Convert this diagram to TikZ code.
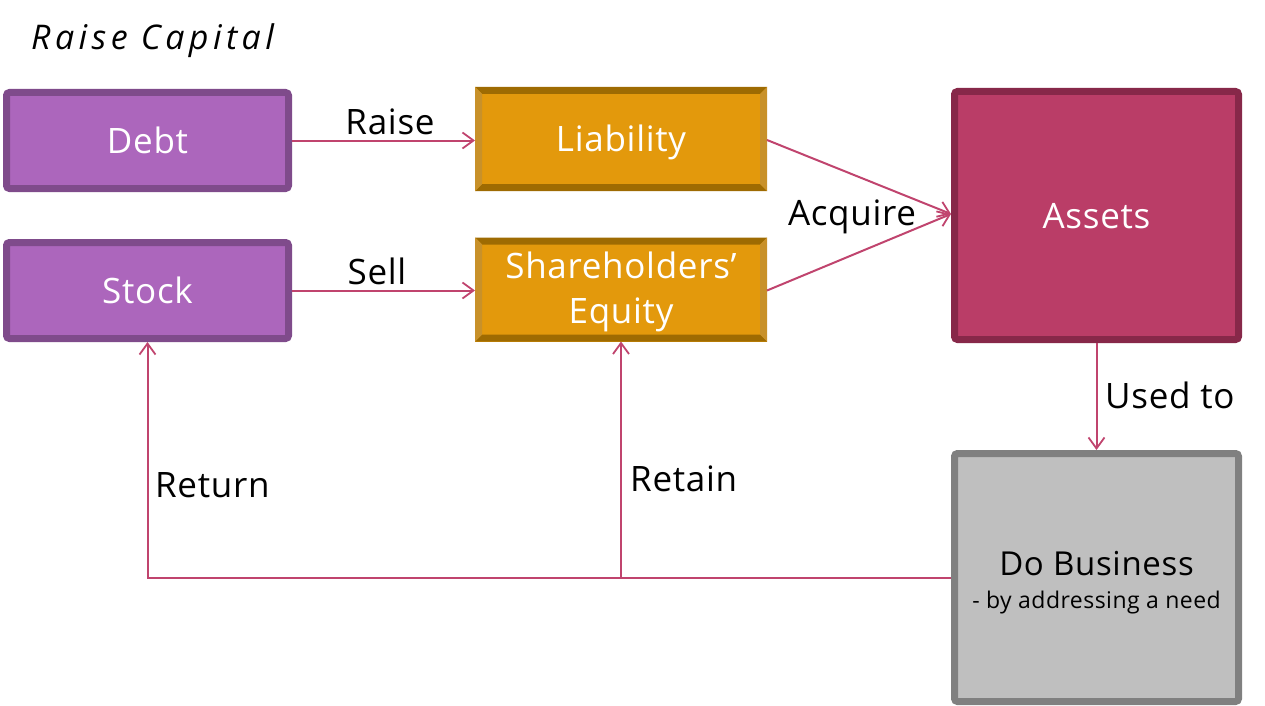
\documentclass[tikz,border=0pt]{standalone}
\usepackage{fontspec}
\setmainfont[LetterSpace=2]{Open Sans}
\newfontfamily\titlefont[LetterSpace=13]{Open Sans}
\usetikzlibrary{arrows.meta,calc}
\definecolor{purfill}{HTML}{AC66BC}
\definecolor{purline}{HTML}{7F4B8B}
\definecolor{orfill}{HTML}{E3990C}
\definecolor{ordark}{HTML}{9E6B02}
\definecolor{orlight}{HTML}{C8912A}
\definecolor{asfill}{HTML}{BA3D67}
\definecolor{asline}{HTML}{872849}
\definecolor{grfill}{HTML}{BFBFBF}
\definecolor{grline}{HTML}{808080}
\definecolor{arr}{HTML}{C0446E}
\tikzset{
  big/.style={font=\fontsize{35}{40}\selectfont},
  whitebox/.style={big,text=white,align=center,inner sep=0pt,text height=25pt,text depth=0pt},
  purbox/.style={whitebox,draw=purline,fill=purfill,line width=7pt,rounded corners=3pt,minimum width=282pt,minimum height=96pt},
  orbox/.style={whitebox,fill=orfill,minimum width=292pt,minimum height=104pt,outer sep=0pt},
  bigbox/.style={whitebox,line width=7pt,rounded corners=3pt,minimum width=284pt,minimum height=248pt},
  conn/.style={draw=arr,line width=2pt,-{Straight Barb[length=11pt,width=16pt,line width=1.8pt]}},
  lbl/.style={big,inner sep=0pt,text=black,anchor=base},
  wlbl/.style={big,inner sep=0pt,text=white,anchor=base}
}
\newcommand{\bevelbox}[1]{%
  \fill[ordark] (#1.north west) -- (#1.north east) -- ($(#1.north east)+(-7,7)$) -- ($(#1.north west)+(7,7)$) -- cycle;
  \fill[ordark] (#1.south west) -- (#1.south east) -- ($(#1.south east)+(-7,-7)$) -- ($(#1.south west)+(7,-7)$) -- cycle;
  \fill[orlight] (#1.north west) -- ($(#1.north west)+(7,7)$) -- ($(#1.south west)+(7,-7)$) -- (#1.south west) -- cycle;
  \fill[orlight] (#1.north east) -- ($(#1.north east)+(-7,7)$) -- ($(#1.south east)+(-7,-7)$) -- (#1.south east) -- cycle;
}
\begin{document}
\begin{tikzpicture}[x=1pt,y=-1pt]
\useasboundingbox (0,0) rectangle (1265,706);
\node[font=\fontsize{34}{40}\selectfont\titlefont\itshape,anchor=base west,inner sep=0pt] (title) at (31,50) {Raise Capital};
\node[purbox] (debt) at (147.5,140.5) {Debt};
\node[purbox] (stock) at (147.5,290.5) {Stock};
\node[orbox] (liab) at (621,139) {};
\node[orbox] (eq) at (621,289.5) {};
\bevelbox{liab}
\bevelbox{eq}
\node[whitebox] (liabt) at (liab) {Liability};
\node[wlbl] (eqt1) at (621,278) {Shareholders’};
\node[wlbl] (eqt2) at (621,323) {Equity};
\node[bigbox,draw=asline,fill=asfill] (assets) at (1096.5,215.5) {Assets};
\node[bigbox,draw=grline,fill=grfill,text=black] (biz) at (1096.5,577.5) {};
\node[lbl,font=\fontsize{33}{40}\selectfont] (bizt) at (1096.5,575) {Do Business};
\node[lbl,font=\fontsize{23}{28}\selectfont] (bizs) at (1096.5,608) {- by addressing a need};
% connectors
\draw[conn] (debt.east) -- (debt.east -| liab.west);
\draw[conn] (stock.east) -- (stock.east -| eq.west);
\coordinate (acq) at ($(assets.west)+(0,-1.5)$);
\draw[conn] ($(liab.east)+(0,1)$) -- (acq);
\draw[conn] ($(eq.east)+(0,1)$) -- (acq);
\draw[conn] (assets.south) -- (biz.north);
\draw[conn] (biz.west) -| (stock.south);
\draw[conn] (eq.south |- biz.west) -- (eq.south);
% labels
\node[lbl] (lraise) at (390,135) {Raise};
\node[lbl] (lsell) at (377,284) {Sell};
\node[lbl] (lacq) at (852,225) {Acquire};
\node[lbl,anchor=base west] (lused) at (1105,408) {Used to};
\node[lbl,anchor=base west] (lret) at (155,497) {Return};
\node[lbl,anchor=base west] (lretain) at (630,491) {Retain};
\end{tikzpicture}
\end{document}
